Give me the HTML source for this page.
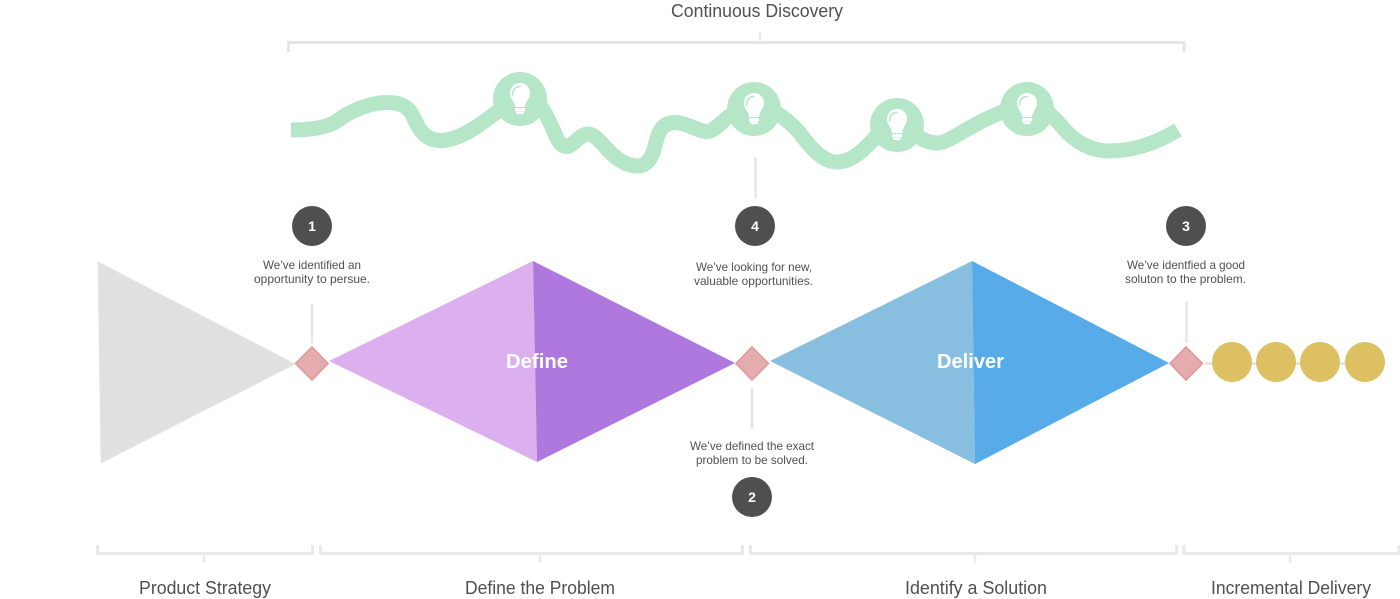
<!DOCTYPE html>
<html lang="en">
<head>
<meta charset="utf-8">
<title>Continuous Discovery and Incremental Delivery</title>
<style>
html,body{margin:0;padding:0;background:#fff;width:1400px;height:599px;overflow:hidden}
svg{display:block}
text{font-family:"Liberation Sans",sans-serif;fill:#505050}
.sm{font-size:12px}
.lg{font-size:18px}
.br{fill:none;stroke:#e5e5e5;stroke-width:3}
.bb{fill:none;stroke:#e9e9e9;stroke-width:3}
.vl{stroke:#e6e6e6;stroke-width:2.5}
.tk{stroke:#ececec;stroke-width:2.5}
.num{font-size:14px;font-weight:bold;fill:#fff;text-anchor:middle}
.dm{fill:#e4acac;stroke:#e09696;stroke-width:1.5}
.bold{font-size:20px;font-weight:bold;fill:#fff}
.wv{fill:none;stroke:#b5e6c8;stroke-width:15}
</style>
</head>
<body>
<svg width="1400" height="599" viewBox="0 0 1400 599" xmlns="http://www.w3.org/2000/svg">
<defs>
<g id="bulb">
<circle r="27" fill="#b5e6c8"/>
<path d="M0,-16 C6,-16 10,-11.500 10,-6 C10,-2 8,0 6.500,3 C5.500,5 5.200,6 5,8 L-5,8 C-5.200,6 -5.500,5 -6.500,3 C-8,0 -10,-2 -10,-6 C-10,-11.500 -6,-16 0,-16Z" fill="#fff"/>
<path d="M-7.500,-4 C-7.500,-9 -4.500,-12.500 0,-12.500" fill="none" stroke="#b5e6c8" stroke-width="1.600" stroke-linecap="round"/>
<rect x="-5" y="9" width="10" height="3" fill="#fff"/>
<path d="M-4.500,12.400 H4.500 L3.500,14.600 Q0,16 -3.500,14.600Z" fill="#fff"/>
</g>
</defs>

<!-- top bracket -->
<text class="lg" x="671" y="17" textLength="172" lengthAdjust="spacingAndGlyphs">Continuous Discovery</text>
<path class="br" d="M288.500,52 V42.500 H1184 V52"/>
<path class="tk" d="M760,32 V42"/>

<!-- wave -->
<path class="wv" d="M291,130 C312,130 328,127 337,121 C347,113 368,102.500 387,102.500 C402,102.500 409,107 414,118 C419,131 427,140.500 440,140.500 C460,140.500 480,125 505,106"/>
<path class="wv" d="M538,102 C546,113 551,124 555,134 C559,144 563,147 567,146.500 C573,146 580,134 588,134 C596,134 606,149 613,155 C622,163 630,166 638,166 C648,166 653,155 655,146 C658,132 662,122.500 675,122.500 C686,122.500 698,131.500 707,131.500 C715,131.500 722,120 735,112"/>
<path class="wv" d="M775,112 C786,119 792,124 798,131 C808,144 821,162 837,162 C853,162 866,148 880,132"/>
<path class="wv" d="M915,134 C922,140 930,143 937,143 C945,143 955,136 973,126 C985,119 995,115 1010,109"/>
<path class="wv" d="M1045,110 C1056,118 1062,128 1070,135 C1082,146 1096,151 1110,151 C1135,151 1158,142 1178,130"/>
<use href="#bulb" x="520" y="99"/>
<use href="#bulb" x="754" y="109"/>
<use href="#bulb" x="897" y="125"/>
<use href="#bulb" x="1027" y="109"/>

<!-- vertical connectors -->
<path class="vl" d="M755.500,157 V198"/>
<path class="vl" d="M312,304 V343"/>
<path class="vl" d="M752,388 V429"/>
<path class="vl" d="M1186.500,302 V343"/>

<!-- gray triangle -->
<polygon points="98,262 295,364 101,463" fill="#e0e0e0" stroke="#e6e6e6"/>

<!-- define -->
<polygon points="329,361 533,261 537,462" fill="#dcb0ee"/>
<polygon points="533,261 735,363 537,462" fill="#ae78de"/>
<text class="bold" x="506" y="368" textLength="62" lengthAdjust="spacingAndGlyphs">Define</text>

<!-- deliver -->
<polygon points="770,361 972,261 975,464" fill="#88bfe0"/>
<polygon points="972,261 1169,363 975,464" fill="#57abe8"/>
<text class="bold" x="937" y="368" textLength="67" lengthAdjust="spacingAndGlyphs">Deliver</text>

<!-- delivery circles -->
<path d="M1205,363.500 H1380" stroke="#e5e5e5" stroke-width="3"/>
<g fill="#dcc062">
<circle cx="1232" cy="362" r="20"/>
<circle cx="1276" cy="362" r="20"/>
<circle cx="1320" cy="362" r="20"/>
<circle cx="1365" cy="362" r="20"/>
</g>

<!-- red diamonds -->
<polygon class="dm" points="312,347 328,363.500 312,380 295.500,363.500"/>
<polygon class="dm" points="752,347 768.500,363.500 752,380 736,363.500"/>
<polygon class="dm" points="1186,347 1202.500,363.500 1186,380 1170,363.500"/>

<!-- numbered circles -->
<g fill="#4f4f4f">
<circle cx="312" cy="226" r="20"/>
<circle cx="755" cy="226" r="20"/>
<circle cx="1186" cy="226" r="20"/>
<circle cx="752" cy="497" r="20"/>
</g>
<text class="num" x="312" y="231">1</text>
<text class="num" x="755" y="231">4</text>
<text class="num" x="1186" y="231">3</text>
<text class="num" x="752" y="502">2</text>

<!-- captions -->
<text class="sm" x="263" y="269" textLength="98" lengthAdjust="spacingAndGlyphs">We’ve identified an</text>
<text class="sm" x="254" y="283" textLength="116" lengthAdjust="spacingAndGlyphs">opportunity to persue.</text>
<text class="sm" x="696" y="271" textLength="116" lengthAdjust="spacingAndGlyphs">We’ve looking for new,</text>
<text class="sm" x="694" y="285" textLength="119" lengthAdjust="spacingAndGlyphs">valuable opportunities.</text>
<text class="sm" x="690" y="450" textLength="124" lengthAdjust="spacingAndGlyphs">We’ve defined the exact</text>
<text class="sm" x="696" y="464" textLength="112" lengthAdjust="spacingAndGlyphs">problem to be solved.</text>
<text class="sm" x="1127" y="269" textLength="118" lengthAdjust="spacingAndGlyphs">We’ve identfied a good</text>
<text class="sm" x="1125" y="283" textLength="121" lengthAdjust="spacingAndGlyphs">soluton to the problem.</text>

<!-- bottom brackets -->
<path class="bb" d="M97.500,545 V553.500 H312.500 V545"/>
<path class="bb" d="M320.500,545 V553.500 H742.500 V545"/>
<path class="bb" d="M750.500,545 V553.500 H1176.500 V545"/>
<path class="bb" d="M1184,545 V553.500 H1399 V545"/>
<path class="tk" d="M204,554 V563 M540,554 V563 M975,554 V563 M1290,554 V563"/>

<text class="lg" x="139" y="594" textLength="132" lengthAdjust="spacingAndGlyphs">Product Strategy</text>
<text class="lg" x="465" y="594" textLength="150" lengthAdjust="spacingAndGlyphs">Define the Problem</text>
<text class="lg" x="905" y="594" textLength="142" lengthAdjust="spacingAndGlyphs">Identify a Solution</text>
<text class="lg" x="1211" y="594" textLength="160" lengthAdjust="spacingAndGlyphs">Incremental Delivery</text>
</svg>
</body>
</html>
